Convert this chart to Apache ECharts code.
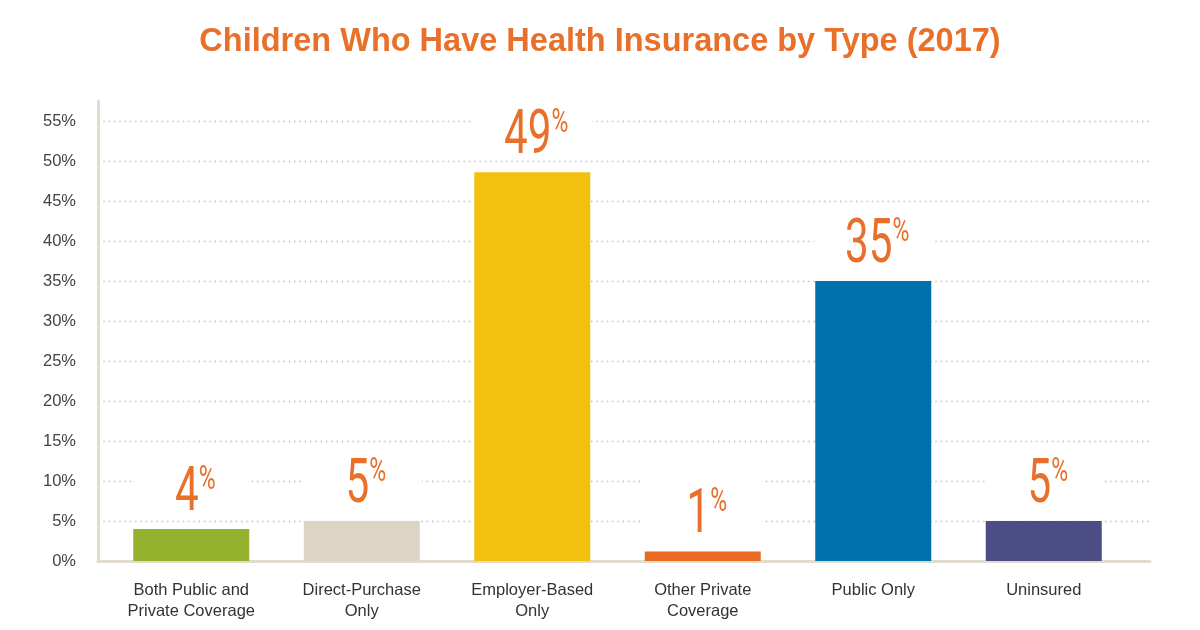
<!DOCTYPE html>
<html>
<head>
<meta charset="utf-8">
<script src="https://cdn.jsdelivr.net/npm/echarts@6/dist/echarts.min.js"></script>
<style>
  html, body { margin: 0; padding: 0; background: #fff; }
  #chart { width: 1200px; height: 630px; }
</style>
</head>
<body>
<div id="chart"></div>
<script>
const title = 'Children Who Have Health Insurance by Type (2017)';
const categories = ['Both Public and\nPrivate Coverage', 'Direct-Purchase\nOnly', 'Employer-Based\nOnly', 'Other Private\nCoverage', 'Public Only', 'Uninsured'];
const values = [4, 5, 48.6, 1.2, 35, 5];
const valueLabels = ['4', '5', '49', '1', '35', '5'];
const barColors = ['#94b22e', '#dcd5c5', '#f2c10e', '#e96a20', '#0071ad', '#4d4d85'];

const chart = echarts.init(document.getElementById('chart'));
const ORANGE = '#e8702a';
const AXIS_BEIGE = '#e2dccf';
const SANS = '"Liberation Sans", Arial, sans-serif';
const SCALE_X = 0.68;

chart.setOption({
  animation: false,
  backgroundColor: '#fff',
  title: {
    text: title,
    left: 'center',
    top: 21,
    textStyle: { fontFamily: SANS, fontWeight: 'bold', fontSize: 32.5, color: ORANGE }
  },
  grid: [
    { left: 98, right: 50, top: 101, bottom: 69 },
    { left: 106, right: 71, top: 101, bottom: 69 }
  ],
  xAxis: [
    {
      type: 'category', gridIndex: 0, data: [''],
      axisLine: { show: true, lineStyle: { color: AXIS_BEIGE, width: 3 } },
      axisTick: { show: false }, axisLabel: { show: false }, splitLine: { show: false }
    },
    {
      type: 'category', gridIndex: 1, data: categories,
      axisLine: { show: false }, axisTick: { show: false },
      axisLabel: {
        margin: 19, fontFamily: SANS, fontSize: 16.5,
        lineHeight: 21, color: '#333', interval: 0
      }
    }
  ],
  yAxis: [
    {
      type: 'value', gridIndex: 0, min: 0, max: 57.5, interval: 5,
      axisLine: { show: true, lineStyle: { color: AXIS_BEIGE, width: 3 } },
      axisTick: { show: false },
      axisLabel: {
        margin: 22, fontFamily: SANS, fontSize: 16.5, color: '#444',
        formatter: v => (v % 5 === 0 ? v + '%' : '')
      },
      splitLine: {
        show: true, showMinLine: false, showMaxLine: false,
        lineStyle: { color: '#bdbdbd', width: 1.4, type: [1.4, 3.9] }
      }
    },
    {
      type: 'value', gridIndex: 1, min: 0, max: 57.5, interval: 5, show: false,
      splitLine: { show: false }
    }
  ],
  series: [
    {
      type: 'bar', xAxisIndex: 1, yAxisIndex: 1,
      barWidth: 116,
      data: values.map((v, i) => ({ value: v, itemStyle: { color: barColors[i] } }))
    },
    {
      type: 'custom', xAxisIndex: 1, yAxisIndex: 1,
      data: values.map((v, i) => [i, v]),
      encode: { x: 0, y: 1 },
      z: 5,
      renderItem: (params, api) => {
        const pt = api.coord([api.value(0), api.value(1)]);
        const cx = pt[0];
        const baseY = pt[1] - 4;
        return {
          type: 'group',
          children: [
            {
              type: 'rect',
              shape: { x: cx - 59, y: baseY - 68, width: 119, height: 58 },
              style: { fill: '#fff' }
            },
            {
              type: 'group',
              x: cx + 4, y: baseY,
              scaleX: SCALE_X,
              children: [{
                type: 'text',
                style: {
                  text: '{n|' + valueLabels[params.dataIndex] + '}{p|%}',
                  x: 0, y: 0,
                  align: 'center', verticalAlign: 'bottom',
                  rich: {
                    n: { fontFamily: 'Roboto', fontWeight: 'normal', fontSize: 62, lineHeight: 62, fill: ORANGE },
                    p: { fontFamily: 'Roboto', fontWeight: 'normal', fontSize: 34, lineHeight: 34, fill: ORANGE, verticalAlign: 'top' }
                  }
                }
              }]
            }
          ]
        };
      }
    }
  ]
});
</script>
</body>
</html>
